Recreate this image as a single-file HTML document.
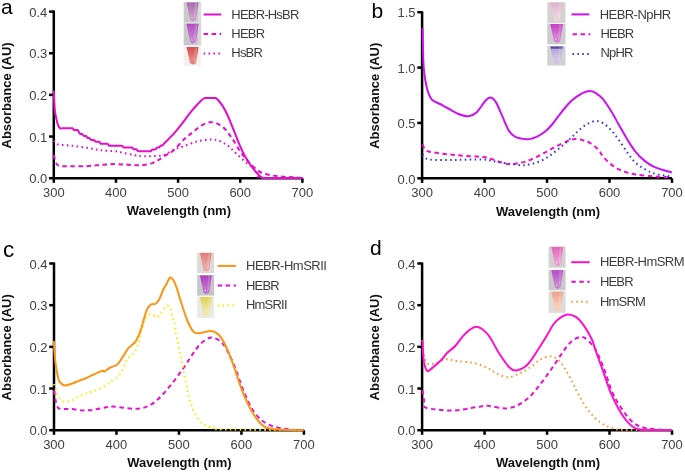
<!DOCTYPE html>
<html><head><meta charset="utf-8"><style>
html,body{margin:0;padding:0;background:#fff;width:685px;height:473px;overflow:hidden}
svg{display:block;will-change:transform}
</style></head><body>
<svg width="685" height="473" viewBox="0 0 685 473">
<defs><filter id="blur" x="-10%" y="-10%" width="120%" height="120%"><feGaussianBlur stdDeviation="0.45"/></filter></defs>
<rect width="685" height="473" fill="#fff"/>
<g font-family="'Liberation Sans', sans-serif" font-size="21" fill="#000">
<text x="1.0" y="13.6">a</text>
<text x="371.5" y="18.1">b</text>
<text x="3.0" y="256.5" font-size="22.5">c</text>
<text x="370.0" y="254.6">d</text>
</g>
<g stroke="#000" stroke-width="2.5" fill="none" stroke-linecap="butt">
<path d="M53.80,10.60 L53.80,178.20 L302.40,178.20"/>
<path d="M49.00,178.20 L53.80,178.20"/>
<path d="M49.00,136.55 L53.80,136.55"/>
<path d="M49.00,94.90 L53.80,94.90"/>
<path d="M49.00,53.25 L53.80,53.25"/>
<path d="M49.00,11.60 L53.80,11.60"/>
<path d="M53.80,178.20 L53.80,182.80"/>
<path d="M115.95,178.20 L115.95,182.80"/>
<path d="M178.10,178.20 L178.10,182.80"/>
<path d="M240.25,178.20 L240.25,182.80"/>
<path d="M302.40,178.20 L302.40,182.80"/>
</g>
<g font-family="'Liberation Sans', sans-serif" font-size="13" fill="#404040">
<text x="47.30" y="183.40" text-anchor="end">0.0</text>
<text x="47.30" y="141.75" text-anchor="end">0.1</text>
<text x="47.30" y="100.10" text-anchor="end">0.2</text>
<text x="47.30" y="58.45" text-anchor="end">0.3</text>
<text x="47.30" y="16.80" text-anchor="end">0.4</text>
<text x="53.80" y="197.00" text-anchor="middle">300</text>
<text x="115.95" y="197.00" text-anchor="middle">400</text>
<text x="178.10" y="197.00" text-anchor="middle">500</text>
<text x="240.25" y="197.00" text-anchor="middle">600</text>
<text x="302.40" y="197.00" text-anchor="middle">700</text>
</g>
<text x="178.90" y="214.80" text-anchor="middle" font-family="'Liberation Sans', sans-serif" font-size="13" font-weight="bold" fill="#111">Wavelength (nm)</text>
<text transform="translate(11.20,95.40) rotate(-90)" text-anchor="middle" font-family="'Liberation Sans', sans-serif" font-size="13" font-weight="bold" fill="#111">Absorbance (AU)</text>
<path d="M53.70,155.00 C54.00,156.00 54.70,159.23 55.50,161.00 C56.30,162.77 56.08,164.73 58.50,165.60 C60.92,166.47 65.42,166.10 70.00,166.20 C74.58,166.30 81.00,166.40 86.00,166.20 C91.00,166.00 95.43,165.35 100.00,165.00 C104.57,164.65 109.08,164.17 113.40,164.10 C117.72,164.03 122.07,164.42 125.90,164.60 C129.73,164.78 133.42,165.13 136.40,165.20 C139.38,165.27 141.15,165.35 143.80,165.00 C146.45,164.65 149.83,163.95 152.30,163.10 C154.77,162.25 156.32,161.23 158.60,159.90 C160.88,158.57 163.53,156.68 166.00,155.10 C168.47,153.52 170.27,153.15 173.40,150.40 C176.53,147.65 181.48,141.70 184.80,138.60 C188.12,135.50 190.48,134.00 193.30,131.80 C196.12,129.60 198.88,127.00 201.70,125.40 C204.52,123.80 207.43,122.42 210.20,122.20 C212.97,121.98 215.88,123.00 218.30,124.10 C220.72,125.20 222.85,127.05 224.70,128.80 C226.55,130.55 227.82,132.48 229.40,134.60 C230.98,136.72 232.50,138.83 234.20,141.50 C235.90,144.17 237.82,147.93 239.60,150.60 C241.38,153.27 242.95,155.12 244.90,157.50 C246.85,159.88 249.00,162.62 251.30,164.90 C253.60,167.18 256.60,169.80 258.70,171.20 C260.80,172.60 261.62,172.58 263.90,173.30 C266.18,174.02 269.22,174.93 272.40,175.50 C275.58,176.07 279.57,176.40 283.00,176.70 C286.43,177.00 289.67,177.08 293.00,177.30 C296.33,177.52 301.33,177.88 303.00,178.00" fill="none" stroke="#e60ccc" stroke-width="2.00" stroke-linejoin="round" stroke-dasharray="4.5,3.5"/>
<path d="M53.70,140.70 C54.40,141.32 54.82,143.57 57.90,144.40 C60.98,145.23 67.35,145.13 72.20,145.70 C77.05,146.27 82.25,147.05 87.00,147.80 C91.75,148.55 96.03,149.63 100.70,150.20 C105.37,150.77 111.68,150.85 115.00,151.20 C118.32,151.55 117.38,151.65 120.60,152.30 C123.82,152.95 130.43,154.45 134.30,155.10 C138.17,155.75 139.75,156.07 143.80,156.20 C147.85,156.33 155.07,156.13 158.60,155.90 C162.13,155.67 162.53,155.82 165.00,154.80 C167.47,153.78 170.45,151.17 173.40,149.80 C176.35,148.43 178.68,148.02 182.70,146.60 C186.72,145.18 192.57,142.50 197.50,141.30 C202.43,140.10 209.00,139.53 212.30,139.40 C215.60,139.27 215.77,140.10 217.30,140.50 C218.83,140.90 220.10,141.18 221.50,141.80 C222.90,142.42 224.35,143.35 225.70,144.20 C227.05,145.05 228.33,145.83 229.60,146.90 C230.87,147.97 231.48,148.83 233.30,150.60 C235.12,152.37 238.12,155.30 240.50,157.50 C242.88,159.70 245.45,162.03 247.60,163.80 C249.75,165.57 251.55,166.33 253.40,168.10 C255.25,169.87 257.30,172.75 258.70,174.40 C260.10,176.05 254.42,177.40 261.80,178.00 C269.18,178.60 296.13,178.00 303.00,178.00" fill="none" stroke="#e60ccc" stroke-width="2.00" stroke-linejoin="round" stroke-dasharray="1.6,3.3"/>
<path d="M53.70,90.60 C53.88,93.83 54.37,105.35 54.80,110.00 C55.23,114.65 55.78,116.03 56.30,118.50 C56.82,120.97 57.28,123.18 57.90,124.80 C58.52,126.42 59.32,127.62 60.00,128.20 C60.68,128.78 61.67,128.28 62.00,128.30 L72.70,128.20 L73.80,130.10 L77.70,130.10 L80.10,134.10 L82.20,134.10 L83.80,135.90 L86.00,135.90 L87.50,138.00 L89.10,138.00 L91.20,139.90 L93.90,139.90 L95.50,141.70 L99.20,141.70 L100.70,143.80 L107.60,143.80 L109.20,145.80 L122.20,145.80 L123.70,147.50 L132.20,147.50 L133.80,149.30 L136.40,149.30 L138.00,151.20 L150.70,151.20 L152.30,149.50 L155.50,149.50 L157.00,147.50 L159.20,147.50 L160.70,145.60 L162.30,145.60 L163.90,143.80 C164.83,142.85 167.65,140.02 169.50,138.10 C171.35,136.18 173.15,134.42 175.00,132.30 C176.85,130.18 177.92,128.83 180.60,125.40 C183.28,121.97 188.28,115.22 191.10,111.70 C193.92,108.18 195.73,106.25 197.50,104.30 C199.27,102.35 200.47,101.07 201.70,100.00 C202.93,98.93 204.37,98.25 204.90,97.90 L215.50,97.90 C215.93,98.25 216.87,98.58 218.10,100.00 C219.33,101.42 221.40,104.02 222.90,106.40 C224.40,108.78 225.75,111.45 227.10,114.30 C228.45,117.15 229.63,120.20 231.00,123.50 C232.37,126.80 233.88,130.57 235.30,134.10 C236.72,137.63 238.07,141.33 239.50,144.70 C240.93,148.07 242.30,151.28 243.90,154.30 C245.50,157.32 247.35,160.15 249.10,162.80 C250.85,165.45 252.63,168.00 254.40,170.20 C256.17,172.40 258.35,174.70 259.70,176.00 C261.05,177.30 262.03,177.67 262.50,178.00 L303.00,178.00" fill="none" stroke="#e60ccc" stroke-width="2.00" stroke-linejoin="round"/>
<defs><linearGradient id="tg1" x1="0" y1="0" x2="0" y2="1"><stop offset="0" stop-color="#a86aae"/><stop offset="0.7" stop-color="#c898c8"/><stop offset="1" stop-color="#c898c8"/></linearGradient></defs>
<g filter="url(#blur)">
<rect x="183.70" y="2.10" width="17.40" height="20.60" fill="#cbc9ca"/>
<rect x="197.97" y="2.10" width="3.13" height="20.60" fill="#dcdadb"/>
<path d="M186.48,2.51 L198.66,2.51 L196.40,17.34 C196.05,20.43 194.49,21.05 193.01,21.05 C191.53,21.05 189.96,20.43 189.62,17.34 Z" fill="url(#tg1)"/>
<path d="M194.84,2.92 L197.62,2.92 L195.36,18.58 L193.79,18.99 Z" fill="#fff" fill-opacity="0.18"/>
<circle cx="191.88" cy="17.76" r="0.8" fill="#fff" fill-opacity="0.5"/>
</g>
<defs><linearGradient id="tg2" x1="0" y1="0" x2="0" y2="1"><stop offset="0" stop-color="#b04cc0"/><stop offset="0.7" stop-color="#c480d0"/><stop offset="1" stop-color="#c480d0"/></linearGradient></defs>
<g filter="url(#blur)">
<rect x="183.70" y="23.30" width="17.40" height="22.00" fill="#c8c6c8"/>
<rect x="197.97" y="23.30" width="3.13" height="22.00" fill="#d8d6d8"/>
<path d="M186.48,23.74 L198.66,23.74 L196.40,39.58 C196.05,42.88 194.49,43.54 193.01,43.54 C191.53,43.54 189.96,42.88 189.62,39.58 Z" fill="url(#tg2)"/>
<path d="M194.84,24.18 L197.62,24.18 L195.36,40.90 L193.79,41.34 Z" fill="#fff" fill-opacity="0.18"/>
<circle cx="191.88" cy="40.02" r="0.8" fill="#fff" fill-opacity="0.5"/>
</g>
<defs><linearGradient id="tg3" x1="0" y1="0" x2="0" y2="1"><stop offset="0" stop-color="#d24e50"/><stop offset="0.7" stop-color="#e88480"/><stop offset="1" stop-color="#e88480"/></linearGradient></defs>
<g filter="url(#blur)">
<rect x="183.70" y="46.60" width="17.40" height="19.40" fill="#f4f0f0"/>
<path d="M186.48,46.99 L198.66,46.99 L196.40,60.96 C196.05,63.87 194.49,64.45 193.01,64.45 C191.53,64.45 189.96,63.87 189.62,60.96 Z" fill="url(#tg3)"/>
<path d="M194.84,47.38 L197.62,47.38 L195.36,62.12 L193.79,62.51 Z" fill="#fff" fill-opacity="0.18"/>
</g>
<path d="M203.60,14.50 L221.20,14.50" stroke="#e60ccc" stroke-width="2" fill="none"/>
<path d="M203.60,34.00 L221.20,34.00" stroke="#e60ccc" stroke-width="2" fill="none" stroke-dasharray="4.5,3.5"/>
<path d="M203.60,53.50 L221.20,53.50" stroke="#e60ccc" stroke-width="2" fill="none" stroke-dasharray="1.6,3.3"/>
<text x="231.30" y="18.60" font-family="'Liberation Sans', sans-serif" font-size="13" fill="#3c3c3c" letter-spacing="-0.80">HEBR-HsBR</text>
<text x="231.30" y="37.80" font-family="'Liberation Sans', sans-serif" font-size="13" fill="#3c3c3c" letter-spacing="-0.80">HEBR</text>
<text x="231.30" y="57.00" font-family="'Liberation Sans', sans-serif" font-size="13" fill="#3c3c3c" letter-spacing="-0.80">HsBR</text>
<g stroke="#000" stroke-width="2.5" fill="none" stroke-linecap="butt">
<path d="M422.10,11.20 L422.10,178.30 L672.00,178.30"/>
<path d="M417.30,178.30 L422.10,178.30"/>
<path d="M417.30,122.93 L422.10,122.93"/>
<path d="M417.30,67.57 L422.10,67.57"/>
<path d="M417.30,12.20 L422.10,12.20"/>
<path d="M422.10,178.30 L422.10,182.90"/>
<path d="M484.58,178.30 L484.58,182.90"/>
<path d="M547.05,178.30 L547.05,182.90"/>
<path d="M609.52,178.30 L609.52,182.90"/>
<path d="M672.00,178.30 L672.00,182.90"/>
</g>
<g font-family="'Liberation Sans', sans-serif" font-size="13" fill="#404040">
<text x="415.60" y="183.50" text-anchor="end">0.0</text>
<text x="415.60" y="128.13" text-anchor="end">0.5</text>
<text x="415.60" y="72.77" text-anchor="end">1.0</text>
<text x="415.60" y="17.40" text-anchor="end">1.5</text>
<text x="422.10" y="197.10" text-anchor="middle">300</text>
<text x="484.58" y="197.10" text-anchor="middle">400</text>
<text x="547.05" y="197.10" text-anchor="middle">500</text>
<text x="609.52" y="197.10" text-anchor="middle">600</text>
<text x="672.00" y="197.10" text-anchor="middle">700</text>
</g>
<text x="548.05" y="216.10" text-anchor="middle" font-family="'Liberation Sans', sans-serif" font-size="13" font-weight="bold" fill="#111">Wavelength (nm)</text>
<text transform="translate(378.90,95.75) rotate(-90)" text-anchor="middle" font-family="'Liberation Sans', sans-serif" font-size="13" font-weight="bold" fill="#111">Absorbance (AU)</text>
<path d="M422.50,144.20 C423.02,145.17 423.82,148.63 425.60,150.00 C427.38,151.37 428.13,151.55 433.20,152.40 C438.27,153.25 447.75,154.33 456.00,155.10 C464.25,155.87 476.82,156.37 482.70,157.00 C488.58,157.63 488.45,158.07 491.30,158.90 C494.15,159.73 496.78,161.12 499.80,162.00 C502.82,162.88 505.90,164.08 509.40,164.20 C512.90,164.32 517.37,163.40 520.80,162.70 C524.23,162.00 526.35,161.50 530.00,160.00 C533.65,158.50 538.47,155.92 542.70,153.70 C546.93,151.48 551.18,148.82 555.40,146.70 C559.62,144.58 564.73,142.27 568.00,141.00 C571.27,139.73 572.45,139.20 575.00,139.10 C577.55,139.00 580.65,139.67 583.30,140.40 C585.95,141.13 588.37,141.92 590.90,143.50 C593.43,145.08 596.48,147.75 598.50,149.90 C600.52,152.05 600.90,153.98 603.00,156.40 C605.10,158.82 608.08,162.07 611.10,164.40 C614.12,166.73 617.08,168.73 621.10,170.40 C625.12,172.07 629.50,173.38 635.20,174.40 C640.90,175.42 649.18,175.98 655.30,176.50 C661.42,177.02 669.13,177.33 671.90,177.50" fill="none" stroke="#ee10cc" stroke-width="2.00" stroke-linejoin="round" stroke-dasharray="4.5,3.5"/>
<path d="M422.50,154.70 C423.65,155.50 423.82,158.63 429.40,159.50 C434.98,160.37 447.12,159.90 456.00,159.90 C464.88,159.90 475.72,159.15 482.70,159.50 C489.68,159.85 491.55,161.05 497.90,162.00 C504.25,162.95 515.45,164.83 520.80,165.20 C526.15,165.57 526.78,164.85 530.00,164.20 C533.22,163.55 536.93,162.63 540.10,161.30 C543.27,159.97 546.25,158.00 549.00,156.20 C551.75,154.40 554.07,152.50 556.60,150.50 C559.13,148.50 561.67,146.42 564.20,144.20 C566.73,141.98 569.47,139.42 571.80,137.20 C574.13,134.98 575.77,133.02 578.20,130.90 C580.63,128.78 583.55,126.13 586.40,124.50 C589.25,122.87 592.53,121.32 595.30,121.10 C598.07,120.88 600.37,121.68 603.00,123.20 C605.63,124.72 608.42,127.35 611.10,130.20 C613.78,133.05 616.42,136.62 619.10,140.30 C621.78,143.98 624.52,148.62 627.20,152.30 C629.88,155.98 632.18,159.55 635.20,162.40 C638.22,165.25 641.95,167.50 645.30,169.40 C648.65,171.30 650.87,172.60 655.30,173.80 C659.73,175.00 669.13,176.13 671.90,176.60" fill="none" stroke="#3a3ae0" stroke-width="2.00" stroke-linejoin="round" stroke-dasharray="1.6,3.3"/>
<path d="M422.60,28.00 C422.67,31.67 422.82,43.33 423.00,50.00 C423.18,56.67 423.32,63.00 423.70,68.00 C424.08,73.00 424.77,76.67 425.30,80.00 C425.83,83.33 426.25,85.50 426.90,88.00 C427.55,90.50 428.27,92.95 429.20,95.00 C430.13,97.05 430.70,98.80 432.50,100.30 C434.30,101.80 437.67,102.80 440.00,104.00 C442.33,105.20 443.50,105.87 446.50,107.50 C449.50,109.13 454.35,112.33 458.00,113.80 C461.65,115.27 465.23,116.62 468.40,116.30 C471.57,115.98 474.13,114.53 477.00,111.90 C479.87,109.27 483.32,102.88 485.60,100.50 C487.88,98.12 488.97,97.28 490.70,97.60 C492.43,97.92 494.17,99.55 496.00,102.40 C497.83,105.25 499.63,110.10 501.70,114.70 C503.77,119.30 506.18,126.35 508.40,130.00 C510.62,133.65 512.02,135.05 515.00,136.60 C517.98,138.15 523.35,139.02 526.30,139.30 C529.25,139.58 530.58,138.90 532.70,138.30 C534.82,137.70 536.88,136.87 539.00,135.70 C541.12,134.53 543.28,133.08 545.40,131.30 C547.52,129.52 549.60,127.43 551.70,125.00 C553.80,122.57 555.88,119.45 558.00,116.70 C560.12,113.95 562.28,111.03 564.40,108.50 C566.52,105.97 568.58,103.52 570.70,101.50 C572.82,99.48 574.98,97.88 577.10,96.40 C579.22,94.92 581.30,93.50 583.40,92.60 C585.50,91.70 587.77,91.00 589.70,91.00 C591.63,91.00 592.78,91.25 595.00,92.60 C597.22,93.95 600.32,96.02 603.00,99.10 C605.68,102.18 608.42,106.75 611.10,111.10 C613.78,115.45 616.42,120.50 619.10,125.20 C621.78,129.90 624.52,134.95 627.20,139.30 C629.88,143.65 632.18,147.62 635.20,151.30 C638.22,154.98 641.95,158.72 645.30,161.40 C648.65,164.08 650.87,165.55 655.30,167.40 C659.73,169.25 669.13,171.65 671.90,172.50" fill="none" stroke="#cc11f5" stroke-width="2.00" stroke-linejoin="round"/>
<defs><linearGradient id="tg4" x1="0" y1="0" x2="0" y2="1"><stop offset="0" stop-color="#dcb0cc"/><stop offset="0.7" stop-color="#ead4de"/><stop offset="1" stop-color="#ead4de"/></linearGradient></defs>
<g filter="url(#blur)">
<rect x="547.30" y="2.30" width="18.20" height="20.60" fill="#d6d2d2"/>
<path d="M550.21,2.71 L562.95,2.71 L560.59,17.54 C560.22,20.63 558.58,21.25 557.04,21.25 C555.49,21.25 553.85,20.63 553.49,17.54 Z" fill="url(#tg4)"/>
<path d="M558.95,3.12 L561.86,3.12 L559.49,18.78 L557.86,19.19 Z" fill="#fff" fill-opacity="0.18"/>
</g>
<defs><linearGradient id="tg5" x1="0" y1="0" x2="0" y2="1"><stop offset="0" stop-color="#c840c8"/><stop offset="0.7" stop-color="#d480d4"/><stop offset="1" stop-color="#d480d4"/></linearGradient></defs>
<g filter="url(#blur)">
<rect x="547.30" y="23.70" width="18.20" height="20.60" fill="#cdcbcd"/>
<path d="M550.21,24.11 L562.95,24.11 L560.59,38.94 C560.22,42.03 558.58,42.65 557.04,42.65 C555.49,42.65 553.85,42.03 553.49,38.94 Z" fill="url(#tg5)"/>
<path d="M558.95,24.52 L561.86,24.52 L559.49,40.18 L557.86,40.59 Z" fill="#fff" fill-opacity="0.18"/>
<circle cx="555.85" cy="39.36" r="0.8" fill="#fff" fill-opacity="0.5"/>
</g>
<defs><linearGradient id="tg6" x1="0" y1="0" x2="0" y2="1"><stop offset="0" stop-color="#b0a0d8"/><stop offset="0.7" stop-color="#cfc2e6"/><stop offset="1" stop-color="#cfc2e6"/></linearGradient></defs>
<g filter="url(#blur)">
<rect x="547.30" y="46.00" width="18.20" height="19.60" fill="#d2d0d0"/>
<path d="M550.21,46.39 L562.95,46.39 L560.59,60.50 C560.22,63.44 558.58,64.03 557.04,64.03 C555.49,64.03 553.85,63.44 553.49,60.50 Z" fill="url(#tg6)"/>
<path d="M550.39,46.39 L562.77,46.39 L562.41,48.74 L550.94,48.74 Z" fill="#5a4ea8"/>
<path d="M558.95,46.78 L561.86,46.78 L559.49,61.68 L557.86,62.07 Z" fill="#fff" fill-opacity="0.18"/>
</g>
<path d="M571.50,14.40 L589.40,14.40" stroke="#cc11f5" stroke-width="2" fill="none"/>
<path d="M572.50,34.20 L590.40,34.20" stroke="#ee10cc" stroke-width="2" fill="none" stroke-dasharray="4.5,3.5"/>
<path d="M572.50,54.00 L590.40,54.00" stroke="#3a3ae0" stroke-width="2" fill="none" stroke-dasharray="1.6,3.3"/>
<text x="599.70" y="18.60" font-family="'Liberation Sans', sans-serif" font-size="13" fill="#3c3c3c" letter-spacing="-0.55">HEBR-NpHR</text>
<text x="600.50" y="37.80" font-family="'Liberation Sans', sans-serif" font-size="13" fill="#3c3c3c" letter-spacing="-0.80">HEBR</text>
<text x="600.50" y="57.00" font-family="'Liberation Sans', sans-serif" font-size="13" fill="#3c3c3c" letter-spacing="-0.80">NpHR</text>
<g stroke="#000" stroke-width="2.5" fill="none" stroke-linecap="butt">
<path d="M54.00,262.50 L54.00,430.20 L303.90,430.20"/>
<path d="M49.20,430.20 L54.00,430.20"/>
<path d="M49.20,388.52 L54.00,388.52"/>
<path d="M49.20,346.85 L54.00,346.85"/>
<path d="M49.20,305.18 L54.00,305.18"/>
<path d="M49.20,263.50 L54.00,263.50"/>
<path d="M54.00,430.20 L54.00,434.80"/>
<path d="M116.47,430.20 L116.47,434.80"/>
<path d="M178.95,430.20 L178.95,434.80"/>
<path d="M241.42,430.20 L241.42,434.80"/>
<path d="M303.90,430.20 L303.90,434.80"/>
</g>
<g font-family="'Liberation Sans', sans-serif" font-size="13" fill="#404040">
<text x="47.50" y="435.40" text-anchor="end">0.0</text>
<text x="47.50" y="393.72" text-anchor="end">0.1</text>
<text x="47.50" y="352.05" text-anchor="end">0.2</text>
<text x="47.50" y="310.38" text-anchor="end">0.3</text>
<text x="47.50" y="268.70" text-anchor="end">0.4</text>
<text x="54.00" y="449.30" text-anchor="middle">300</text>
<text x="116.47" y="449.30" text-anchor="middle">400</text>
<text x="178.95" y="449.30" text-anchor="middle">500</text>
<text x="241.42" y="449.30" text-anchor="middle">600</text>
<text x="303.90" y="449.30" text-anchor="middle">700</text>
</g>
<text x="179.45" y="467.28" text-anchor="middle" font-family="'Liberation Sans', sans-serif" font-size="13" font-weight="bold" fill="#111">Wavelength (nm)</text>
<text transform="translate(11.40,347.35) rotate(-90)" text-anchor="middle" font-family="'Liberation Sans', sans-serif" font-size="13" font-weight="bold" fill="#111">Absorbance (AU)</text>
<path d="M54.00,390.50 C54.28,392.20 54.93,397.73 55.70,400.70 C56.47,403.67 56.93,406.92 58.60,408.30 C60.27,409.68 63.17,408.85 65.70,409.00 C68.23,409.15 71.03,408.97 73.80,409.20 C76.57,409.43 79.62,410.23 82.30,410.40 C84.98,410.57 87.37,410.43 89.90,410.20 C92.43,409.97 94.80,409.48 97.50,409.00 C100.20,408.52 103.60,407.72 106.10,407.30 C108.60,406.88 107.48,406.27 112.50,406.50 C117.52,406.73 129.73,409.05 136.20,408.70 C142.67,408.35 146.27,407.45 151.30,404.40 C156.33,401.35 161.13,396.33 166.40,390.40 C171.67,384.47 177.98,375.63 182.90,368.80 C187.82,361.97 192.38,354.03 195.90,349.40 C199.42,344.77 201.13,342.95 204.00,341.00 C206.87,339.05 209.78,337.02 213.10,337.70 C216.42,338.38 220.30,340.27 223.90,345.10 C227.50,349.93 231.47,359.15 234.70,366.70 C237.93,374.25 240.07,382.85 243.30,390.40 C246.53,397.95 250.15,406.43 254.10,412.00 C258.05,417.57 261.97,421.00 267.00,423.80 C272.03,426.60 278.22,427.73 284.30,428.80 C290.38,429.87 300.30,429.97 303.50,430.20" fill="none" stroke="#e810d0" stroke-width="2.00" stroke-linejoin="round" stroke-dasharray="4.5,3.5"/>
<path d="M54.00,384.00 C54.28,384.88 55.18,387.63 55.70,389.30 C56.22,390.97 56.47,392.50 57.10,394.00 C57.73,395.50 58.47,397.07 59.50,398.30 C60.53,399.53 61.95,400.85 63.30,401.40 C64.65,401.95 66.10,401.80 67.60,401.60 C69.10,401.40 70.08,401.18 72.30,400.20 C74.52,399.22 78.00,397.02 80.90,395.70 C83.80,394.38 86.73,393.37 89.70,392.30 C92.67,391.23 95.82,390.60 98.70,389.30 C101.58,388.00 104.98,385.80 107.00,384.50 C109.02,383.20 108.90,382.88 110.80,381.50 C112.70,380.12 116.27,378.55 118.40,376.20 C120.53,373.85 122.10,370.27 123.60,367.40 C125.10,364.53 126.12,361.05 127.40,359.00 C128.68,356.95 129.98,356.42 131.30,355.10 C132.62,353.78 134.10,353.08 135.30,351.10 C136.50,349.12 137.57,346.10 138.50,343.20 C139.43,340.30 140.10,336.88 140.90,333.70 C141.70,330.52 142.52,326.62 143.30,324.10 C144.08,321.58 144.68,320.18 145.60,318.60 C146.52,317.02 147.60,315.18 148.80,314.60 C150.00,314.02 151.48,314.65 152.80,315.10 C154.12,315.55 155.38,317.52 156.70,317.30 C158.02,317.08 159.10,315.70 160.70,313.80 C162.30,311.90 164.72,306.82 166.30,305.90 C167.88,304.98 169.15,306.32 170.20,308.30 C171.25,310.28 171.90,315.43 172.60,317.80 C173.30,320.17 173.90,320.10 174.40,322.50 C174.90,324.90 175.03,328.95 175.60,332.20 C176.17,335.45 177.08,338.67 177.80,342.00 C178.52,345.33 179.22,348.80 179.90,352.20 C180.58,355.60 181.12,358.30 181.90,362.40 C182.68,366.50 183.75,372.70 184.60,376.80 C185.45,380.90 186.33,383.80 187.00,387.00 C187.67,390.20 188.08,393.67 188.60,396.00 C189.12,398.33 189.60,399.38 190.10,401.00 C190.60,402.62 191.05,404.12 191.60,405.70 C192.15,407.28 192.73,408.95 193.40,410.50 C194.07,412.05 194.80,413.62 195.60,415.00 C196.40,416.38 197.25,417.50 198.20,418.80 C199.15,420.10 200.10,421.68 201.30,422.80 C202.50,423.92 203.95,424.77 205.40,425.50 C206.85,426.23 208.47,426.73 210.00,427.20 C211.53,427.67 212.60,427.93 214.60,428.30 C216.60,428.67 207.12,429.08 222.00,429.40 C236.88,429.72 290.25,430.07 303.90,430.20" fill="none" stroke="#ffea00" stroke-width="2.00" stroke-linejoin="round" stroke-dasharray="1.6,3.3"/>
<path d="M53.80,340.80 C54.07,344.38 54.60,355.83 55.40,362.30 C56.20,368.77 57.70,376.15 58.60,379.60 C59.50,383.05 59.78,382.02 60.80,383.00 C61.82,383.98 62.83,385.40 64.70,385.50 C66.57,385.60 69.57,384.42 72.00,383.60 C74.43,382.78 77.12,381.45 79.30,380.60 C81.48,379.75 82.48,379.62 85.10,378.50 C87.72,377.38 92.08,375.22 95.00,373.90 C97.92,372.58 101.33,371.15 102.60,370.60 L104.20,371.80 L106.20,370.30 C106.87,369.83 108.37,368.47 110.20,367.50 C112.03,366.53 115.05,366.35 117.20,364.50 C119.35,362.65 121.33,359.02 123.10,356.40 C124.87,353.78 126.35,350.67 127.80,348.80 C129.25,346.93 130.42,346.53 131.80,345.20 C133.18,343.87 134.58,343.38 136.10,340.80 C137.62,338.22 139.58,333.40 140.90,329.70 C142.22,326.00 142.95,322.05 144.00,318.60 C145.05,315.15 146.00,311.38 147.20,309.00 C148.40,306.62 149.87,305.13 151.20,304.30 C152.53,303.47 153.88,304.80 155.20,304.00 C156.52,303.20 157.78,301.83 159.10,299.50 C160.42,297.17 161.78,292.75 163.10,290.00 C164.42,287.25 165.82,285.08 167.00,283.00 C168.18,280.92 168.97,277.68 170.20,277.50 C171.43,277.32 173.20,279.82 174.40,281.90 C175.60,283.98 176.35,286.83 177.40,290.00 C178.45,293.17 179.08,295.90 180.70,300.90 C182.32,305.90 184.98,314.88 187.10,320.00 C189.22,325.12 191.28,329.42 193.40,331.60 C195.52,333.78 196.98,333.20 199.80,333.10 C202.62,333.00 207.48,331.00 210.30,331.00 C213.12,331.00 214.78,331.83 216.70,333.10 C218.62,334.37 219.88,335.52 221.80,338.60 C223.72,341.68 226.05,346.57 228.20,351.60 C230.35,356.63 232.53,362.70 234.70,368.80 C236.87,374.90 239.05,382.45 241.20,388.20 C243.35,393.95 245.08,398.27 247.60,403.30 C250.12,408.33 253.42,414.45 256.30,418.40 C259.18,422.35 261.32,425.13 264.90,427.00 C268.48,428.87 271.37,429.07 277.80,429.60 C284.23,430.13 299.22,430.10 303.50,430.20" fill="none" stroke="#fb9414" stroke-width="2.00" stroke-linejoin="round"/>
<defs><linearGradient id="tg7" x1="0" y1="0" x2="0" y2="1"><stop offset="0" stop-color="#e07c74"/><stop offset="0.7" stop-color="#eaa8a4"/><stop offset="1" stop-color="#eaa8a4"/></linearGradient></defs>
<g filter="url(#blur)">
<rect x="197.20" y="252.50" width="17.00" height="20.50" fill="#dcd8d8"/>
<path d="M199.92,252.91 L211.82,252.91 L209.61,267.67 C209.27,270.75 207.74,271.36 206.29,271.36 C204.85,271.36 203.32,270.75 202.98,267.67 Z" fill="url(#tg7)"/>
<path d="M208.08,253.32 L210.80,253.32 L208.59,268.90 L207.06,269.31 Z" fill="#fff" fill-opacity="0.18"/>
</g>
<defs><linearGradient id="tg8" x1="0" y1="0" x2="0" y2="1"><stop offset="0" stop-color="#b03cc0"/><stop offset="0.7" stop-color="#c070cc"/><stop offset="1" stop-color="#c070cc"/></linearGradient></defs>
<g filter="url(#blur)">
<rect x="197.20" y="275.00" width="17.00" height="20.60" fill="#c6c5c7"/>
<path d="M199.92,275.41 L211.82,275.41 L209.61,290.24 C209.27,293.33 207.74,293.95 206.29,293.95 C204.85,293.95 203.32,293.33 202.98,290.24 Z" fill="url(#tg8)"/>
<path d="M208.08,275.82 L210.80,275.82 L208.59,291.48 L207.06,291.89 Z" fill="#fff" fill-opacity="0.18"/>
<circle cx="205.19" cy="290.66" r="0.8" fill="#fff" fill-opacity="0.5"/>
</g>
<defs><linearGradient id="tg9" x1="0" y1="0" x2="0" y2="1"><stop offset="0" stop-color="#e2d050"/><stop offset="0.7" stop-color="#f0e6a8"/><stop offset="1" stop-color="#f0e6a8"/></linearGradient></defs>
<g filter="url(#blur)">
<rect x="197.20" y="296.60" width="17.00" height="21.40" fill="#e9e9e5"/>
<path d="M199.92,297.03 L211.82,297.03 L209.61,312.44 C209.27,315.65 207.74,316.29 206.29,316.29 C204.85,316.29 203.32,315.65 202.98,312.44 Z" fill="url(#tg9)"/>
<path d="M208.08,297.46 L210.80,297.46 L208.59,313.72 L207.06,314.15 Z" fill="#fff" fill-opacity="0.18"/>
</g>
<path d="M217.60,265.90 L235.90,265.90" stroke="#fb9414" stroke-width="2" fill="none"/>
<path d="M217.60,285.40 L235.90,285.40" stroke="#e810d0" stroke-width="2" fill="none" stroke-dasharray="4.5,3.5"/>
<path d="M217.60,305.40 L235.90,305.40" stroke="#ffea00" stroke-width="2" fill="none" stroke-dasharray="1.6,3.3"/>
<text x="246.00" y="270.00" font-family="'Liberation Sans', sans-serif" font-size="13" fill="#3c3c3c" letter-spacing="-0.50">HEBR-HmSRII</text>
<text x="246.00" y="289.60" font-family="'Liberation Sans', sans-serif" font-size="13" fill="#3c3c3c" letter-spacing="-0.80">HEBR</text>
<text x="246.00" y="309.20" font-family="'Liberation Sans', sans-serif" font-size="13" fill="#3c3c3c" letter-spacing="-0.80">HmSRII</text>
<g stroke="#000" stroke-width="2.5" fill="none" stroke-linecap="butt">
<path d="M422.10,262.50 L422.10,430.20 L672.00,430.20"/>
<path d="M417.30,430.20 L422.10,430.20"/>
<path d="M417.30,388.52 L422.10,388.52"/>
<path d="M417.30,346.85 L422.10,346.85"/>
<path d="M417.30,305.18 L422.10,305.18"/>
<path d="M417.30,263.50 L422.10,263.50"/>
<path d="M422.10,430.20 L422.10,434.80"/>
<path d="M484.58,430.20 L484.58,434.80"/>
<path d="M547.05,430.20 L547.05,434.80"/>
<path d="M609.52,430.20 L609.52,434.80"/>
<path d="M672.00,430.20 L672.00,434.80"/>
</g>
<g font-family="'Liberation Sans', sans-serif" font-size="13" fill="#404040">
<text x="415.60" y="435.40" text-anchor="end">0.0</text>
<text x="415.60" y="393.72" text-anchor="end">0.1</text>
<text x="415.60" y="352.05" text-anchor="end">0.2</text>
<text x="415.60" y="310.38" text-anchor="end">0.3</text>
<text x="415.60" y="268.70" text-anchor="end">0.4</text>
<text x="422.10" y="449.30" text-anchor="middle">300</text>
<text x="484.58" y="449.30" text-anchor="middle">400</text>
<text x="547.05" y="449.30" text-anchor="middle">500</text>
<text x="609.52" y="449.30" text-anchor="middle">600</text>
<text x="672.00" y="449.30" text-anchor="middle">700</text>
</g>
<text x="548.05" y="467.48" text-anchor="middle" font-family="'Liberation Sans', sans-serif" font-size="13" font-weight="bold" fill="#111">Wavelength (nm)</text>
<text transform="translate(378.90,347.35) rotate(-90)" text-anchor="middle" font-family="'Liberation Sans', sans-serif" font-size="13" font-weight="bold" fill="#111">Absorbance (AU)</text>
<path d="M422.50,390.20 C422.75,391.83 423.40,397.08 424.00,400.00 C424.60,402.92 421.28,405.95 426.10,407.70 C430.92,409.45 444.57,410.58 452.90,410.50 C461.23,410.42 470.28,407.98 476.10,407.20 C481.92,406.42 482.92,405.58 487.80,405.80 C492.68,406.02 500.37,408.63 505.40,408.50 C510.43,408.37 514.15,406.78 518.00,405.00 C521.85,403.22 525.35,400.55 528.50,397.80 C531.65,395.05 534.08,391.88 536.90,388.50 C539.72,385.12 542.58,381.32 545.40,377.50 C548.22,373.68 550.98,369.70 553.80,365.60 C556.62,361.50 559.47,356.85 562.30,352.90 C565.13,348.95 567.98,344.52 570.80,341.90 C573.62,339.28 576.95,337.90 579.20,337.20 C581.45,336.50 582.32,336.63 584.30,337.70 C586.28,338.77 589.13,341.48 591.10,343.60 C593.07,345.72 593.93,346.15 596.10,350.40 C598.27,354.65 601.32,361.93 604.10,369.10 C606.88,376.27 609.62,386.45 612.80,393.40 C615.98,400.35 619.73,405.88 623.20,410.80 C626.67,415.72 629.85,420.02 633.60,422.90 C637.35,425.78 640.80,426.93 645.70,428.10 C650.60,429.27 658.63,429.57 663.00,429.90 C667.37,430.23 670.42,430.07 671.90,430.10" fill="none" stroke="#e810d0" stroke-width="2.00" stroke-linejoin="round" stroke-dasharray="4.5,3.5"/>
<path d="M422.50,339.80 C422.72,342.20 423.00,350.25 423.80,354.20 C424.60,358.15 425.55,361.95 427.30,363.50 C429.05,365.05 431.20,364.20 434.30,363.50 C437.40,362.80 442.03,359.68 445.90,359.30 C449.77,358.92 452.85,360.58 457.50,361.20 C462.15,361.82 468.75,361.85 473.80,363.00 C478.85,364.15 484.08,366.42 487.80,368.10 C491.52,369.78 492.75,371.57 496.10,373.10 C499.45,374.63 503.92,377.28 507.90,377.30 C511.88,377.32 516.28,374.87 520.00,373.20 C523.72,371.53 526.82,369.55 530.20,367.30 C533.58,365.05 536.92,361.53 540.30,359.70 C543.68,357.87 547.40,356.17 550.50,356.30 C553.60,356.43 556.37,358.25 558.90,360.50 C561.43,362.75 563.43,366.13 565.70,369.80 C567.97,373.47 570.53,378.68 572.50,382.50 C574.47,386.32 575.42,388.87 577.50,392.70 C579.58,396.53 582.30,401.48 585.00,405.50 C587.70,409.52 590.80,413.75 593.70,416.80 C596.60,419.85 599.52,421.97 602.40,423.80 C605.28,425.63 607.53,426.78 611.00,427.80 C614.47,428.82 613.05,429.52 623.20,429.90 C633.35,430.28 663.78,430.07 671.90,430.10" fill="none" stroke="#f99a30" stroke-width="2.00" stroke-linejoin="round" stroke-dasharray="1.6,3.3"/>
<path d="M422.50,340.20 C422.72,343.70 423.00,356.08 423.80,361.20 C424.60,366.32 425.93,369.75 427.30,370.90 C428.67,372.05 429.67,369.92 432.00,368.10 C434.33,366.28 438.78,362.52 441.30,360.00 C443.82,357.48 444.78,355.33 447.10,353.00 C449.42,350.67 452.30,349.10 455.20,346.00 C458.10,342.90 461.02,337.62 464.50,334.40 C467.98,331.18 472.22,326.70 476.10,326.70 C479.98,326.70 484.00,330.02 487.80,334.40 C491.60,338.78 495.33,347.53 498.90,353.00 C502.47,358.47 506.43,364.28 509.20,367.20 C511.97,370.12 512.97,370.50 515.50,370.50 C518.03,370.50 521.95,368.72 524.40,367.20 C526.85,365.68 527.83,364.48 530.20,361.40 C532.57,358.32 535.78,353.07 538.60,348.70 C541.42,344.33 544.70,339.15 547.10,335.20 C549.50,331.25 551.08,327.70 553.00,325.00 C554.92,322.30 556.12,320.75 558.60,319.00 C561.08,317.25 564.50,314.42 567.90,314.50 C571.30,314.58 575.13,315.63 579.00,319.50 C582.87,323.37 588.37,332.62 591.10,337.70 C593.83,342.78 593.52,344.77 595.40,350.00 C597.28,355.23 599.80,361.87 602.40,369.10 C605.00,376.33 608.12,386.45 611.00,393.40 C613.88,400.35 616.80,405.88 619.70,410.80 C622.60,415.72 625.50,419.87 628.40,422.90 C631.30,425.93 633.23,427.82 637.10,429.00 C640.97,430.18 645.80,429.82 651.60,430.00 C657.40,430.18 668.52,430.08 671.90,430.10" fill="none" stroke="#ff10cc" stroke-width="2.00" stroke-linejoin="round"/>
<defs><linearGradient id="tg10" x1="0" y1="0" x2="0" y2="1"><stop offset="0" stop-color="#e060b8"/><stop offset="0.7" stop-color="#ec9cd0"/><stop offset="1" stop-color="#ec9cd0"/></linearGradient></defs>
<g filter="url(#blur)">
<rect x="548.60" y="246.50" width="17.00" height="21.20" fill="#d2d0d1"/>
<path d="M551.32,246.92 L563.22,246.92 L561.01,262.19 C560.67,265.37 559.14,266.00 557.70,266.00 C556.25,266.00 554.72,265.37 554.38,262.19 Z" fill="url(#tg10)"/>
<path d="M559.48,247.35 L562.20,247.35 L559.99,263.46 L558.46,263.88 Z" fill="#fff" fill-opacity="0.18"/>
<circle cx="556.59" cy="262.61" r="0.8" fill="#fff" fill-opacity="0.5"/>
</g>
<defs><linearGradient id="tg11" x1="0" y1="0" x2="0" y2="1"><stop offset="0" stop-color="#b448c4"/><stop offset="0.7" stop-color="#c880d0"/><stop offset="1" stop-color="#c880d0"/></linearGradient></defs>
<g filter="url(#blur)">
<rect x="548.60" y="269.80" width="17.00" height="20.60" fill="#cac8ca"/>
<path d="M551.32,270.21 L563.22,270.21 L561.01,285.04 C560.67,288.13 559.14,288.75 557.70,288.75 C556.25,288.75 554.72,288.13 554.38,285.04 Z" fill="url(#tg11)"/>
<path d="M559.48,270.62 L562.20,270.62 L559.99,286.28 L558.46,286.69 Z" fill="#fff" fill-opacity="0.18"/>
<circle cx="556.59" cy="285.46" r="0.8" fill="#fff" fill-opacity="0.5"/>
</g>
<defs><linearGradient id="tg12" x1="0" y1="0" x2="0" y2="1"><stop offset="0" stop-color="#eca088"/><stop offset="0.7" stop-color="#f6ccb8"/><stop offset="1" stop-color="#f6ccb8"/></linearGradient></defs>
<g filter="url(#blur)">
<rect x="548.60" y="291.30" width="17.00" height="21.60" fill="#dedcda"/>
<path d="M551.32,291.73 L563.22,291.73 L561.01,307.28 C560.67,310.52 559.14,311.17 557.70,311.17 C556.25,311.17 554.72,310.52 554.38,307.28 Z" fill="url(#tg12)"/>
<path d="M559.48,292.16 L562.20,292.16 L559.99,308.58 L558.46,309.01 Z" fill="#fff" fill-opacity="0.18"/>
</g>
<path d="M571.30,262.20 L589.70,262.20" stroke="#ff10cc" stroke-width="2" fill="none"/>
<path d="M571.30,281.80 L589.70,281.80" stroke="#e810d0" stroke-width="2" fill="none" stroke-dasharray="4.5,3.5"/>
<path d="M571.30,301.70 L589.70,301.70" stroke="#f99a30" stroke-width="2" fill="none" stroke-dasharray="1.6,3.3"/>
<text x="599.90" y="266.30" font-family="'Liberation Sans', sans-serif" font-size="13" fill="#3c3c3c" letter-spacing="-0.55">HEBR-HmSRM</text>
<text x="599.90" y="286.30" font-family="'Liberation Sans', sans-serif" font-size="13" fill="#3c3c3c" letter-spacing="-0.80">HEBR</text>
<text x="599.90" y="306.00" font-family="'Liberation Sans', sans-serif" font-size="13" fill="#3c3c3c" letter-spacing="-0.80">HmSRM</text>
</svg>
</body></html>
